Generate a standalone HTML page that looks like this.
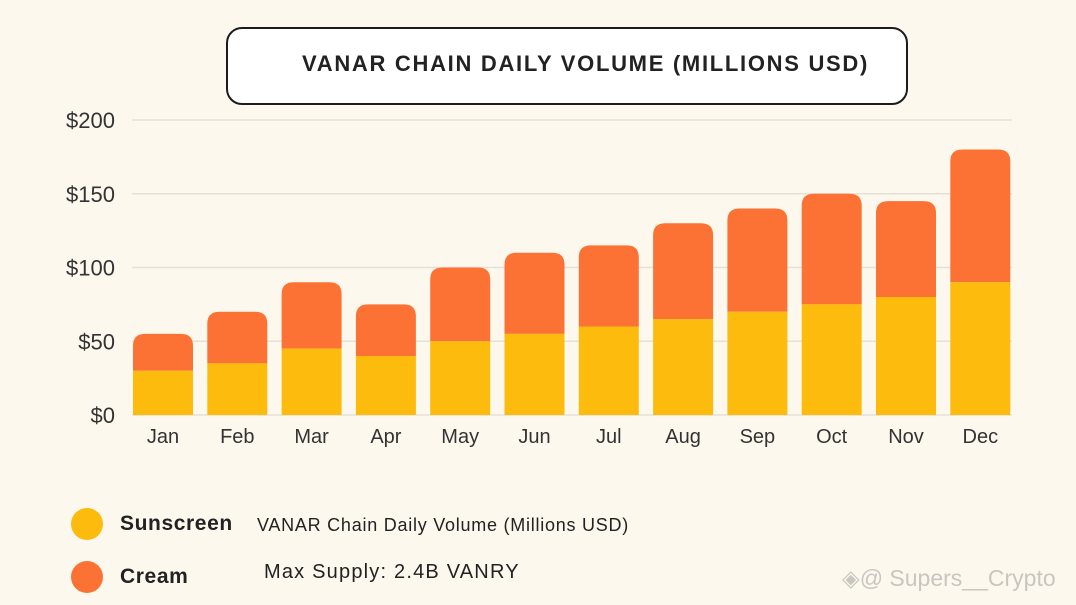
<!DOCTYPE html>
<html><head><meta charset="utf-8"><style>
body{margin:0;width:1076px;height:605px;background:#fcf8ee;font-family:"Liberation Sans",sans-serif;overflow:hidden;position:relative}
.title{position:absolute;left:226px;top:27px;width:678px;height:74px;border:2px solid #1c1c1c;border-radius:16px;background:#fff;box-sizing:content-box}
.title span{position:absolute;left:74px;top:22px;font-weight:bold;font-size:22px;letter-spacing:1.7px;color:#222}
.leg{position:absolute;font-size:20px;color:#222;white-space:nowrap}
.dot{position:absolute;width:32px;height:32px;border-radius:50%}
</style></head><body>
<div class="title"><span>VANAR CHAIN DAILY VOLUME (MILLIONS USD)</span></div>
<svg id="chart" width="1076" height="605" style="position:absolute;left:0;top:0"></svg>
<div class="dot" style="left:71px;top:508px;background:#fdbb0e"></div>
<div class="leg" style="left:120px;top:512px;font-weight:bold;font-size:21px;letter-spacing:0.6px">Sunscreen</div>
<div class="leg" style="left:257px;top:515px;font-size:18px;letter-spacing:0.75px">VANAR Chain Daily Volume (Millions USD)</div>
<div class="dot" style="left:71px;top:561px;background:#fc7234"></div>
<div class="leg" style="left:120px;top:565px;font-weight:bold;font-size:21px;letter-spacing:0.6px">Cream</div>
<div class="leg" style="left:264px;top:561px;font-size:20px;letter-spacing:1.2px">Max Supply: 2.4B VANRY</div>
<div class="leg" style="left:842px;top:565px;font-size:23px;color:#c9c6c0">◈@ Supers__Crypto</div>
<script>
const categories=["Jan","Feb","Mar","Apr","May","Jun","Jul","Aug","Sep","Oct","Nov","Dec"];
const sunscreen=[30,35,45,40,50,55,60,65,70,75,80,90];
const cream=[25,35,45,35,50,55,55,65,70,75,65,90];
const yTicks=[0,50,100,150,200];
const yLabels=["$0","$50","$100","$150","$200"];
const svg=document.getElementById('chart');const NS="http://www.w3.org/2000/svg";
const y0=415,y1=120,yMax=200,x0=133,step=74.3,bw=60;
const y=v=>y0-(v/yMax)*(y0-y1);
const x=i=>x0+i*step;
function mk(t,a){const e=document.createElementNS(NS,t);for(const k in a)e.setAttribute(k,a[k]);svg.appendChild(e);return e;}
yTicks.forEach((t,i)=>{
 const g=mk('line',{x1:132,x2:1012,y1:y(t),y2:y(t),stroke:'#e6e1d6','stroke-width':1.5});
 
 
 const l=mk('text',{x:115,y:y(t)+8,'text-anchor':'end','font-size':22,fill:'#333','font-family':'Liberation Sans'});
 l.textContent=yLabels[i];
 
 
});
categories.forEach((c,i)=>{
 const tot=sunscreen[i]+cream[i];const r=12,xl=x(i),xr=x(i)+bw,yt=y(tot),ym=y(sunscreen[i]);
 const p=mk('path',{d:`M${xl},${ym} L${xl},${yt+r} Q${xl},${yt} ${xl+r},${yt} L${xr-r},${yt} Q${xr},${yt} ${xr},${yt+r} L${xr},${ym} Z`,fill:'#fc7234'});
 
 
 const b=mk('rect',{x:xl,y:ym,width:bw,height:y0-ym,fill:'#fdbb0e'});
 
 
 const t=mk('text',{x:xl+bw/2,y:443,'text-anchor':'middle','font-size':20,fill:'#333','font-family':'Liberation Sans'});
 t.textContent=c;
 
 
});
</script>
</body></html>
